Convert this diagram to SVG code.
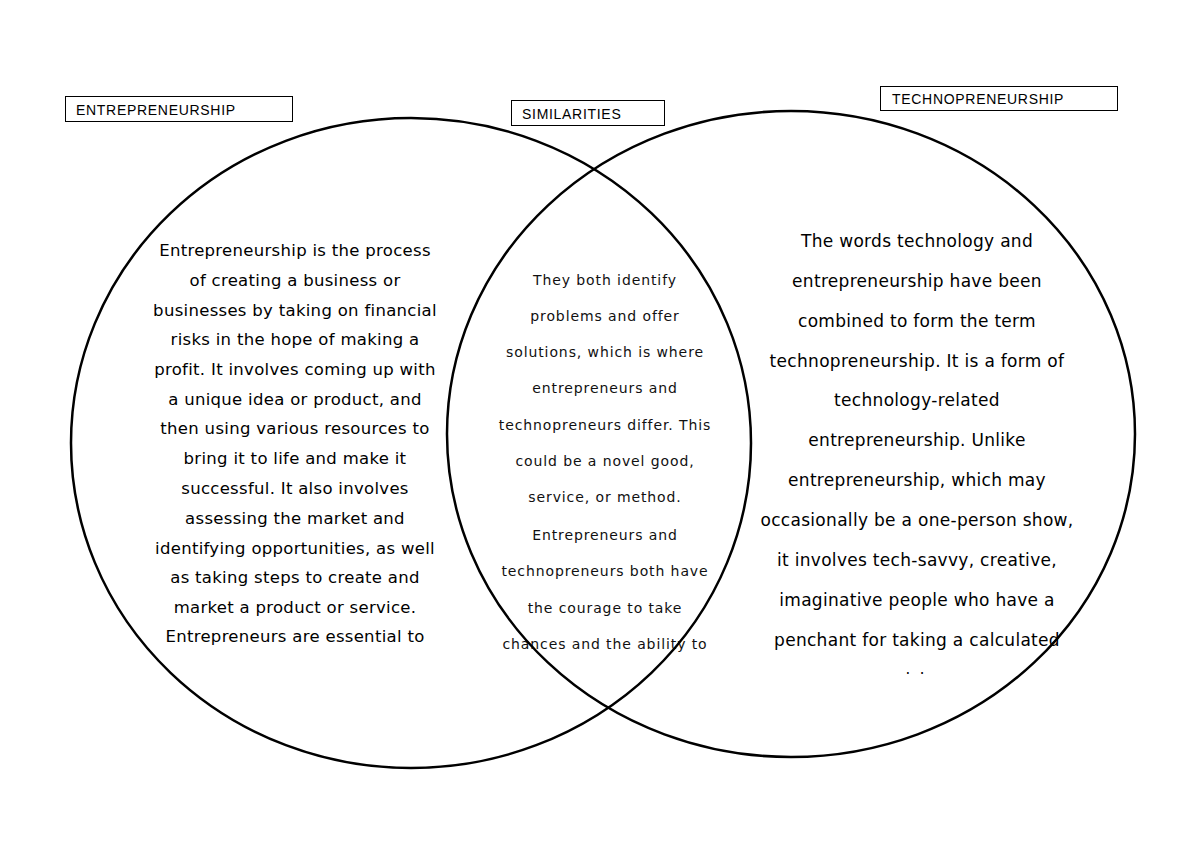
<svg xmlns="http://www.w3.org/2000/svg" width="1200" height="848" viewBox="0 0 1200 848">
<style>
.lbl{fill:#fff;stroke:#000;stroke-width:1}
.lt{font-family:"Liberation Sans",Arial,sans-serif;font-size:14px;letter-spacing:0.7px;fill:#000}
.c{fill:none;stroke:#000;stroke-width:2.5}
.tl{font-family:"DejaVu Sans",sans-serif;font-size:16.5px;letter-spacing:0.3px;fill:#000;text-anchor:middle}
.tm{font-family:"DejaVu Sans",sans-serif;font-size:14px;letter-spacing:0.9px;fill:#111;text-anchor:middle}
.tr{font-family:"DejaVu Sans",sans-serif;font-size:17px;letter-spacing:0.3px;fill:#000;text-anchor:middle}
</style>
<defs>
<clipPath id="rclip"><rect x="700" y="200" width="450" height="474"/></clipPath>
</defs>
<rect width="1200" height="848" fill="#fff"/>
<g id="left">
<text class="tl"><tspan x="295" y="256">Entrepreneurship is the process</tspan><tspan x="295" y="286">of creating a business or</tspan><tspan x="295" y="316">businesses by taking on financial</tspan><tspan x="295" y="345">risks in the hope of making a</tspan><tspan x="295" y="375">profit. It involves coming up with</tspan><tspan x="295" y="405">a unique idea or product, and</tspan><tspan x="295" y="434">then using various resources to</tspan><tspan x="295" y="464">bring it to life and make it</tspan><tspan x="295" y="494">successful. It also involves</tspan><tspan x="295" y="524">assessing the market and</tspan><tspan x="295" y="554">identifying opportunities, as well</tspan><tspan x="295" y="583">as taking steps to create and</tspan><tspan x="295" y="613">market a product or service.</tspan><tspan x="295" y="642">Entrepreneurs are essential to</tspan></text>
</g>
<g id="middle">
<text class="tm"><tspan x="605" y="285">They both identify</tspan><tspan x="605" y="321">problems and offer</tspan><tspan x="605" y="357">solutions, which is where</tspan><tspan x="605" y="393">entrepreneurs and</tspan><tspan x="605" y="430">technopreneurs differ. This</tspan><tspan x="605" y="466">could be a novel good,</tspan><tspan x="605" y="502">service, or method.</tspan><tspan x="605" y="540">Entrepreneurs and</tspan><tspan x="605" y="576">technopreneurs both have</tspan><tspan x="605" y="613">the courage to take</tspan><tspan x="605" y="649">chances and the ability to</tspan></text>
</g>
<g id="right">
<text class="tr" clip-path="url(#rclip)"><tspan x="917" y="247">The words technology and</tspan><tspan x="917" y="287">entrepreneurship have been</tspan><tspan x="917" y="327">combined to form the term</tspan><tspan x="917" y="367">technopreneurship. It is a form of</tspan><tspan x="917" y="406">technology-related</tspan><tspan x="917" y="446">entrepreneurship. Unlike</tspan><tspan x="917" y="486">entrepreneurship, which may</tspan><tspan x="917" y="526">occasionally be a one-person show,</tspan><tspan x="917" y="566">it involves tech-savvy, creative,</tspan><tspan x="917" y="606">imaginative people who have a</tspan><tspan x="917" y="646">penchant for taking a calculated</tspan><tspan x="917" y="686">risk.</tspan></text>
</g>
<g id="connectors">
<ellipse class="c" cx="411" cy="443" rx="340" ry="325"/>
<ellipse class="c" cx="791" cy="434" rx="344" ry="323"/>
</g>
<g id="label-entrepreneurship">
<rect class="lbl" x="65.5" y="96.5" width="227" height="25"/>
<text class="lt" x="76" y="115">ENTREPRENEURSHIP</text>
</g>
<g id="label-similarities">
<rect class="lbl" x="511.5" y="100.5" width="153" height="25"/>
<text class="lt" x="522" y="119">SIMILARITIES</text>
</g>
<g id="label-technopreneurship">
<rect class="lbl" x="880.5" y="86.5" width="237" height="24"/>
<text class="lt" x="892" y="104">TECHNOPRENEURSHIP</text>
</g>
</svg>
